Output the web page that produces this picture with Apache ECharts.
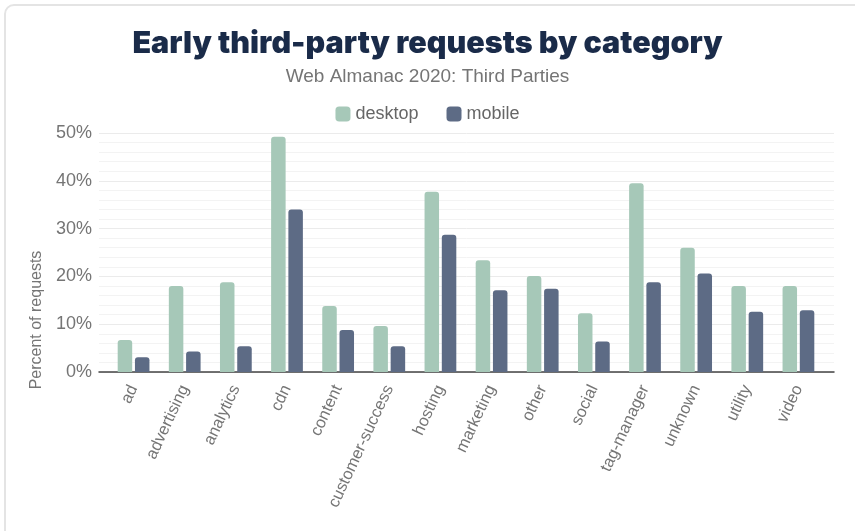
<!DOCTYPE html>
<html>
<head>
<meta charset="utf-8">
<script src="https://cdn.jsdelivr.net/npm/echarts@6/dist/echarts.min.js"></script>
<style>
html,body{margin:0;padding:0;background:#fff;overflow:hidden;}
#frame{position:absolute;left:4px;top:4px;width:880px;height:560px;border:2px solid #e4e4e4;border-radius:10px;box-sizing:border-box;}
#chart{position:absolute;left:0;top:0;width:855px;height:531px;}
</style>
</head>
<body>
<div id="frame"></div>
<div id="chart"></div>
<script>
const categories = ['ad','advertising','analytics','cdn','content','customer-success','hosting','marketing','other','social','tag-manager','unknown','utility','video'];
const desktopValues = [6.7, 18.0, 18.8, 49.2, 13.8, 9.6, 37.7, 23.4, 20.1, 12.3, 39.5, 26.0, 18.0, 18.0];
const mobileValues  = [3.1, 4.3, 5.4, 34.0, 8.8, 5.4, 28.7, 17.1, 17.4, 6.4, 18.8, 20.6, 12.6, 12.9];
const yTicks = [0, 10, 20, 30, 40, 50];

const yMin = yTicks[0], yMax = yTicks[yTicks.length-1], yStep = yTicks[1] - yTicks[0];
const font = 'Liberation Sans';
const chart = echarts.init(document.getElementById('chart'), null, {renderer:'canvas'});
chart.setOption({
  backgroundColor: 'transparent',
  animation: false,
  title: [
    {text: 'Early third-party requests by category', left: 'center', top: 23,
     textStyle: {fontFamily: 'Inter', fontWeight: 900, fontSize: 30.5, color: '#1a2b49'}},
    {text: 'Web Almanac 2020: Third Parties', left: 'center', top: 62,
     textStyle: {fontFamily: font, fontWeight: 'normal', fontSize: 19, color: '#757575'}}
  ],
  legend: {
    top: 100, left: 'center', itemWidth: 15, itemHeight: 15, itemGap: 28,
    icon: 'roundRect',
    textStyle: {fontFamily: font, fontSize: 18, color: '#666'},
    data: ['desktop', 'mobile']
  },
  grid: [
    {left: 108, right: 31, top: 133, bottom: 159},
    {left: 99, right: 21, top: 133, bottom: 159}
  ],
  xAxis: [
    {type: 'category', data: categories, gridIndex: 0,
     axisLine: {show: false},
     axisTick: {show: false},
     axisLabel: {rotate: 65, fontFamily: font, fontSize: 16.5, color: '#757575', margin: 14, interval: 0}},
    {type: 'value', gridIndex: 1, min: 0, max: 1,
     axisLine: {show: true, onZero: false, lineStyle: {color: '#444', width: 1.5}},
     axisTick: {show: false}, axisLabel: {show: false}, splitLine: {show: false}}
  ],
  yAxis: [
    {type: 'value', gridIndex: 0, min: yMin, max: yMax, interval: yStep, show: false},
    {type: 'value', gridIndex: 1, min: yMin, max: yMax, interval: yStep,
     axisLine: {show: false}, axisTick: {show: false},
     axisLabel: {formatter: '{value}%', fontFamily: font, fontSize: 18, color: '#757575', margin: 7},
     splitLine: {lineStyle: {color: '#ebebeb', width: 1}},
     minorTick: {show: false, splitNumber: 5},
     minorSplitLine: {show: true, lineStyle: {color: '#f3f3f3', width: 1}}}
  ],
  graphic: [{
    type: 'text', x: 36.5, y: 320, rotation: Math.PI/2,
    style: {text: 'Percent of requests', font: '16px "Liberation Sans"', fill: '#757575', align: 'center', verticalAlign: 'middle'}
  }],
  series: [
    {name: 'desktop', type: 'bar', xAxisIndex: 0, yAxisIndex: 0, data: desktopValues, barWidth: 14.5, barGap: '19%',
     itemStyle: {color: '#a6c8b8', borderRadius: [3,3,0,0]}},
    {name: 'mobile', type: 'bar', xAxisIndex: 0, yAxisIndex: 0, data: mobileValues, barWidth: 14.5,
     itemStyle: {color: '#5d6b85', borderRadius: [3,3,0,0]}}
  ]
});
</script>
</body>
</html>
